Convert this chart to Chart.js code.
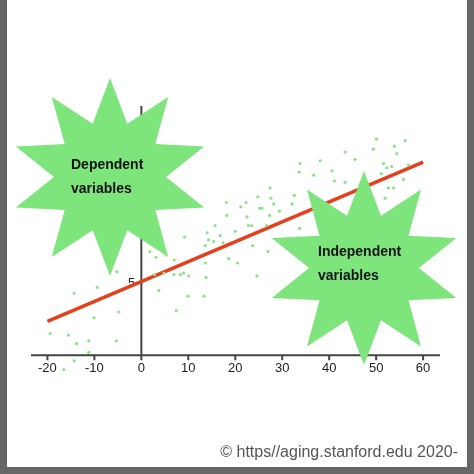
<!DOCTYPE html>
<html>
<head>
<meta charset="utf-8">
<script src="https://cdn.jsdelivr.net/npm/chart.js@4"></script>
<style>
  html, body { margin: 0; padding: 0; background: #fff; }
  #wrap { width: 474px; height: 474px; }
</style>
</head>
<body>
<div id="wrap"><canvas id="chart" width="474" height="474"></canvas></div>
<script>
// Scatter values
const pointX = [-19.4, -15.5, -13.8, -11.2, -11.2, -14.3, -16.5, -14.3, -9.4, -10.1, -4.8, -5.3, -5.2,
  1.8, 3.1, 2.8, 3.7, 4.8, 6.9, 7.0, 8.3, 9.0, 10.1, 7.4, 9.2, 9.9, 13.3, 13.6, 13.8, 13.6, 14.3, 14.0,
  15.7, 15.4, 16.8, 17.4, 18.1, 18.2, 18.6, 20.0, 20.5, 21.2, 22.3, 22.5, 22.8, 23.5, 23.7, 24.8, 24.6,
  25.2, 25.7, 26.7, 27.0, 27.3, 27.4, 27.6, 28.2, 29.4, 32.1, 32.6, 33.7, 33.8, 33.6, 36.7, 38.1, 40.6,
  41.1, 43.4, 43.4, 45.5, 50.1, 49.4, 51.1, 51.6, 51.9, 52.6, 53.7, 53.9, 54.4, 56.2, 55.8, 56.9, 53.3, 52.3];
const pointY = [1.5, 1.4, 0.8, 1.0, 0.2, -0.4, -1.0, 4.3, 4.7, 2.6, 3.0, 1.0, 5.8,
  7.2, 6.8, 5.6, 4.5, 5.7, 5.6, 6.6, 5.6, 5.7, 5.5, 3.1, 8.2, 4.1, 4.1, 6.4, 5.4, 7.6, 8.0, 8.5,
  9.0, 7.9, 8.3, 7.8, 10.6, 9.7, 6.7, 8.6, 6.4, 10.3, 10.6, 9.6, 9.0, 9.0, 7.6, 11.0, 5.5,
  10.2, 10.2, 9.0, 7.2, 9.7, 11.6, 10.9, 10.5, 10.0, 10.5, 11.1, 8.8, 13.3, 12.7, 12.5, 13.5, 12.8,
  12.1, 12.0, 14.1, 13.6, 15.0, 14.3, 12.6, 13.3, 10.9, 11.6, 11.6, 14.5, 14.0, 14.9, 12.2, 13.2, 13.1, 13.0];

// Regression line end points
const lineX = [-20, 60];
const lineY = [2.35, 13.4];

// Tick labels
const xTicks = [-20, -10, 0, 10, 20, 30, 40, 50, 60];
const yTicks = [5];

// Starburst labels
const starLabels = [['Dependent', 'variables'], ['Independent', 'variables']];
const creditText = '\u00a9 https//aging.stanford.edu 2020-';

function drawStar(ctx, cx, cy, outer, inner) {
  ctx.beginPath();
  for (let i = 0; i < 20; i += 1) {
    const r = i % 2 === 0 ? outer : inner;
    const a = -Math.PI / 2 + (i * Math.PI) / 10;
    const px = cx + r * Math.cos(a);
    const py = cy + r * Math.sin(a);
    if (i === 0) ctx.moveTo(px, py); else ctx.lineTo(px, py);
  }
  ctx.closePath();
  ctx.fillStyle = '#7de57b';
  ctx.fill();
}

const decorPlugin = {
  id: 'decor',
  beforeDatasetsDraw(chart) {
    const { ctx } = chart;
    const x = chart.scales.x;
    const y = chart.scales.y;
    const x0 = x.getPixelForValue(0);
    const y0 = y.getPixelForValue(0);
    ctx.save();
    ctx.strokeStyle = '#444';
    ctx.lineWidth = 2;
    ctx.beginPath();
    ctx.moveTo(31, y0);
    ctx.lineTo(440, y0);
    ctx.moveTo(x0, y0);
    ctx.lineTo(x0, 106);
    xTicks.forEach((t) => {
      const px = x.getPixelForValue(t);
      ctx.moveTo(px, y0);
      ctx.lineTo(px, y0 + 5);
    });
    ctx.stroke();
    ctx.fillStyle = '#222';
    ctx.font = '13px "Liberation Sans", Arial, sans-serif';
    ctx.textAlign = 'center';
    ctx.textBaseline = 'top';
    xTicks.forEach((t) => ctx.fillText(String(t), x.getPixelForValue(t), y0 + 7));
    ctx.textAlign = 'right';
    ctx.textBaseline = 'middle';
    yTicks.forEach((t) => ctx.fillText(String(t), x0 - 6, y.getPixelForValue(t)));
    ctx.restore();
  },
  afterDatasetsDraw(chart) {
    const { ctx } = chart;
    ctx.save();
    drawStar(ctx, 110, 177, 99, 56);
    drawStar(ctx, 364, 268, 97, 55);
    ctx.fillStyle = '#111';
    ctx.font = 'bold 14px "Liberation Sans", Arial, sans-serif';
    ctx.textAlign = 'left';
    ctx.textBaseline = 'middle';
    ctx.fillText(starLabels[0][0], 71, 165);
    ctx.fillText(starLabels[0][1], 71, 189);
    ctx.fillText(starLabels[1][0], 318, 252);
    ctx.fillText(starLabels[1][1], 318, 276);
    ctx.fillStyle = '#555';
    ctx.font = '16px "Liberation Sans", Arial, sans-serif';
    ctx.textAlign = 'right';
    ctx.fillText(creditText, 458, 453);
    // picture frame
    ctx.strokeStyle = '#666';
    ctx.lineWidth = 7;
    ctx.strokeRect(3.5, -10, 467, 480.5);
    ctx.restore();
  },
};

const ctx = document.getElementById('chart').getContext('2d');
new Chart(ctx, {
  type: 'scatter',
  data: {
    datasets: [
      {
        data: pointX.map((v, i) => ({ x: v, y: pointY[i] })),
        pointRadius: 1.6,
        pointBackgroundColor: '#8ee08c',
        pointBorderWidth: 0,
      },
      {
        type: 'line',
        data: lineX.map((v, i) => ({ x: v, y: lineY[i] })),
        borderColor: '#e63f1c',
        borderWidth: 3.5,
        pointRadius: 0,
        fill: false,
      },
    ],
  },
  options: {
    responsive: false,
    animation: false,
    layout: { padding: { left: 31, right: 34, top: 106, bottom: 90 } },
    plugins: { legend: { display: false }, tooltip: { enabled: false } },
    scales: {
      x: { type: 'linear', min: -23.5, max: 63.6, display: false },
      y: { type: 'linear', min: -2, max: 17.3, display: false },
    },
  },
  plugins: [decorPlugin],
});
</script>
</body>
</html>
